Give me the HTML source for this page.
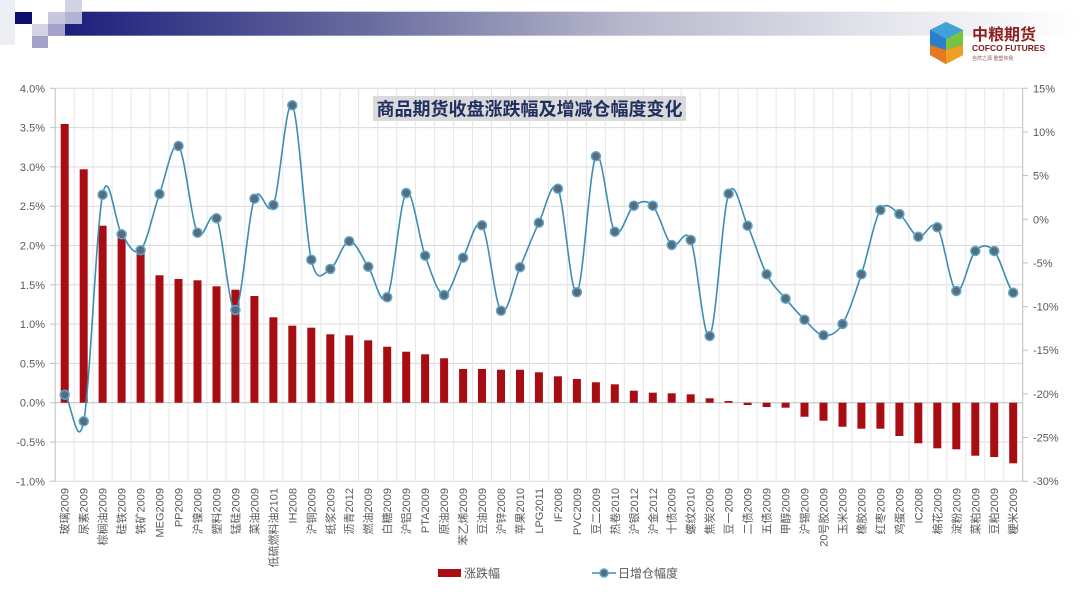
<!DOCTYPE html>
<html><head><meta charset="utf-8"><style>
html,body{margin:0;padding:0;background:#fff;}
svg{display:block;font-family:"Liberation Sans","Noto Sans CJK SC",sans-serif;}
.ax{font-size:11px;fill:#595959;}
.xl{font-size:11px;fill:#595959;}
</style></head><body>
<svg width="1080" height="608" viewBox="0 0 1080 608" xmlns="http://www.w3.org/2000/svg">
<defs>
<linearGradient id="hg" x1="0" x2="1" y1="0" y2="0">
<stop offset="0" stop-color="#1c1e7c"/><stop offset="0.3" stop-color="#6a6c9f"/><stop offset="0.55" stop-color="#b6b7cb"/><stop offset="0.8" stop-color="#e4e4ec"/><stop offset="1" stop-color="#ffffff"/>
</linearGradient>
</defs>
<rect width="1080" height="608" fill="#fff"/>
<!-- header -->
<rect x="0" y="0" width="15" height="45" fill="#ededf4"/>
<rect x="65" y="11.7" width="1015" height="24" fill="url(#hg)"/>
<rect x="15" y="12" width="17" height="12" fill="#0d0d6e"/>
<rect x="48" y="12" width="17" height="12" fill="#c7c7dd"/>
<rect x="32" y="24" width="16" height="12" fill="#d4d4e6"/>
<rect x="48" y="24" width="17" height="12" fill="#a4a4ca"/>
<rect x="32" y="36" width="16" height="12" fill="#a3a3c9"/>
<rect x="65" y="0" width="17" height="12" fill="#d3d3e3"/>
<rect x="65" y="12" width="17" height="12" fill="#b4b4d2"/>
<!-- logo -->
<polygon points="946,22 963,30 963,55 946,64 930,55 930,30" fill="#2a7fc8"/>
<polygon points="946,22 963,30 946,39 930,30" fill="#3fa3d8"/>
<polygon points="946,39 963,30 963,45 946,50" fill="#7cc242"/>
<polygon points="946,50 963,45 963,55 946,64" fill="#f0a020"/>
<polygon points="930,45 946,50 946,64 930,55" fill="#e8781e"/>
<text x="972" y="40" font-size="16" font-weight="bold" fill="#8e1f1f">中粮期货</text>
<text x="972" y="51" font-size="8.5" font-weight="bold" fill="#7a1c1c">COFCO FUTURES</text>
<text x="972" y="60" font-size="5" fill="#8a5a5a">自然之源 重塑你我</text>

<!-- horizontal gridlines -->
<g stroke="#d9d9d9" stroke-width="1">
<path d="M55 88.3H1023M55 127.6H1023M55 166.9H1023M55 206.2H1023M55 245.5H1023M55 284.8H1023M55 324.1H1023M55 363.4H1023M55 442H1023M55 481.3H1023"/>
</g>
<!-- vertical gridlines -->
<g stroke="#e6e6e6" stroke-width="1">
<path d="M74.2 88V481M93.1 88V481M112.1 88V481M131.1 88V481M150.1 88V481M169 88V481M188 88V481M207 88V481M225.9 88V481M244.9 88V481M263.9 88V481M282.8 88V481M301.8 88V481M320.8 88V481M339.8 88V481M358.7 88V481M377.7 88V481M396.7 88V481M415.6 88V481M434.6 88V481M453.6 88V481M472.5 88V481M491.5 88V481M510.5 88V481M529.5 88V481M548.4 88V481M567.4 88V481M586.4 88V481M605.3 88V481M624.3 88V481M643.3 88V481M662.2 88V481M681.2 88V481M700.2 88V481M719.2 88V481M738.1 88V481M757.1 88V481M776.1 88V481M795 88V481M814 88V481M833 88V481M851.9 88V481M870.9 88V481M889.9 88V481M908.9 88V481M927.8 88V481M946.8 88V481M965.8 88V481M984.7 88V481M1003.7 88V481"/>
</g>
<!-- axes -->
<g stroke="#bfbfbf" stroke-width="1">
<path d="M55.2 88V481.3M50 88.3H55M50 127.6H55M50 166.9H55M50 206.2H55M50 245.5H55M50 284.8H55M50 324.1H55M50 363.4H55M50 402.7H55M50 442H55M50 481.3H55"/>
<path d="M1022.7 88V481.3M1023 88.3H1028M1023 132H1028M1023 175.6H1028M1023 219.3H1028M1023 262.9H1028M1023 306.6H1028M1023 350.2H1028M1023 393.9H1028M1023 437.5H1028M1023 481.2H1028"/>
<path d="M55 402.7H1023"/>
</g>

<!-- title -->
<rect x="373" y="96" width="313" height="25" fill="#dadada"/>
<text x="529.5" y="115.5" font-size="18" font-weight="bold" fill="#1f2f5f" text-anchor="middle">商品期货收盘涨跌幅及增减仓幅度变化</text>

<!-- bars -->
<g fill="#a80d14">
<rect x="60.7" y="124" width="8" height="278.7"/>
<rect x="79.7" y="169.3" width="8" height="233.4"/>
<rect x="98.6" y="225.7" width="8" height="177"/>
<rect x="117.6" y="236.5" width="8" height="166.2"/>
<rect x="136.6" y="250.7" width="8" height="152"/>
<rect x="155.5" y="275.3" width="8" height="127.4"/>
<rect x="174.5" y="279" width="8" height="123.7"/>
<rect x="193.5" y="280.3" width="8" height="122.4"/>
<rect x="212.5" y="286.3" width="8" height="116.4"/>
<rect x="231.4" y="289.7" width="8" height="113"/>
<rect x="250.4" y="296" width="8" height="106.7"/>
<rect x="269.4" y="317.3" width="8" height="85.4"/>
<rect x="288.3" y="325.7" width="8" height="77"/>
<rect x="307.3" y="327.7" width="8" height="75"/>
<rect x="326.3" y="334.3" width="8" height="68.4"/>
<rect x="345.2" y="335.3" width="8" height="67.4"/>
<rect x="364.2" y="340.3" width="8" height="62.4"/>
<rect x="383.2" y="346.7" width="8" height="56"/>
<rect x="402.2" y="351.7" width="8" height="51"/>
<rect x="421.1" y="354.3" width="8" height="48.4"/>
<rect x="440.1" y="358.3" width="8" height="44.4"/>
<rect x="459.1" y="369" width="8" height="33.7"/>
<rect x="478" y="369" width="8" height="33.7"/>
<rect x="497" y="369.7" width="8" height="33"/>
<rect x="516" y="369.7" width="8" height="33"/>
<rect x="534.9" y="372.3" width="8" height="30.4"/>
<rect x="553.9" y="376.3" width="8" height="26.4"/>
<rect x="572.9" y="379" width="8" height="23.7"/>
<rect x="591.9" y="382.3" width="8" height="20.4"/>
<rect x="610.8" y="384.3" width="8" height="18.4"/>
<rect x="629.8" y="390.7" width="8" height="12"/>
<rect x="648.8" y="392.7" width="8" height="10"/>
<rect x="667.7" y="393.3" width="8" height="9.4"/>
<rect x="686.7" y="394.3" width="8" height="8.4"/>
<rect x="705.7" y="398.3" width="8" height="4.4"/>
<rect x="724.6" y="401" width="8" height="1.7"/>
<rect x="743.6" y="402.7" width="8" height="2.3"/>
<rect x="762.6" y="402.7" width="8" height="4.3"/>
<rect x="781.6" y="402.7" width="8" height="5"/>
<rect x="800.5" y="402.7" width="8" height="14"/>
<rect x="819.5" y="402.7" width="8" height="18"/>
<rect x="838.5" y="402.7" width="8" height="24"/>
<rect x="857.4" y="402.7" width="8" height="26"/>
<rect x="876.4" y="402.7" width="8" height="26"/>
<rect x="895.4" y="402.7" width="8" height="33.3"/>
<rect x="914.3" y="402.7" width="8" height="40.6"/>
<rect x="933.3" y="402.7" width="8" height="45.6"/>
<rect x="952.3" y="402.7" width="8" height="46.6"/>
<rect x="971.3" y="402.7" width="8" height="53"/>
<rect x="990.2" y="402.7" width="8" height="54.3"/>
<rect x="1009.2" y="402.7" width="8" height="60.6"/>
</g>

<!-- line -->
<path fill="none" stroke="#3d8db0" stroke-width="1.6" d="M64.7 394.7
C71 399.1 77.3 454.6 83.7 421.3
C90 388 96.3 225.9 102.6 194.7
C108.9 163.5 115.3 225 121.6 234.3
C127.9 243.6 134.2 257 140.6 250.3
C146.9 243.6 153.2 211.4 159.5 194
C165.9 176.6 172.2 139.6 178.5 146
C184.8 152.5 191.2 220.7 197.5 232.7
C203.8 244.8 210.1 205.4 216.5 218.3
C222.8 231.2 229.1 313.3 235.4 310
C241.7 306.7 248.1 216.2 254.4 198.7
C260.7 181.2 267 220.6 273.4 205
C279.7 189.4 286 96.2 292.3 105.3
C298.6 114.4 305 232.4 311.3 259.7
C317.6 287 324 272.1 330.3 269
C336.6 265.9 342.9 241.6 349.2 241.2
C355.6 240.8 361.9 257.4 368.2 266.7
C374.5 276.1 380.9 309.6 387.2 297.3
C393.5 285 399.8 199.9 406.2 193
C412.5 186.1 418.8 238.7 425.1 255.7
C431.4 272.7 437.8 294.7 444.1 295
C450.4 295.3 456.7 269.3 463.1 257.7
C469.4 246.1 475.7 216.5 482 225.3
C488.3 234.1 494.7 303.7 501 310.7
C507.3 317.7 513.7 282 520 267.3
C526.3 252.6 532.6 235.8 538.9 222.7
C545.3 209.6 551.6 177.1 557.9 188.7
C564.2 200.3 570.6 297.7 576.9 292.3
C583.2 286.9 589.5 166.4 595.9 156.3
C602.2 146.2 608.5 223.5 614.8 231.7
C621.1 239.9 627.5 210 633.8 205.7
C640.1 201.4 646.4 199.2 652.8 205.7
C659.1 212.3 665.4 239.3 671.7 245
C678 250.7 684.4 224.8 690.7 240
C697 255.2 703.4 343.7 709.7 336
C716 328.3 722.3 212.1 728.6 193.7
C735 175.3 741.3 212.3 747.6 225.7
C753.9 239.1 760.3 262.1 766.6 274.3
C772.9 286.5 779.2 291.1 785.6 298.7
C791.9 306.3 798.2 313.6 804.5 319.7
C810.8 325.8 817.2 334.6 823.5 335.3
C829.8 336 836.1 334.2 842.5 324
C848.8 313.8 855.1 293.3 861.4 274.3
C867.8 255.3 874.1 220.1 880.4 210
C886.7 200 893.1 209.6 899.4 214
C905.7 218.5 912 234.5 918.3 236.7
C924.7 238.9 931 218.3 937.3 227.3
C943.6 236.4 950 287.1 956.3 291
C962.6 295 968.9 257.7 975.3 251
C981.6 244.3 987.9 244.1 994.2 251
C1000.5 258 1006.9 285.8 1013.2 292.7"/>
<g fill="#5a6b79" stroke="#58a9d0" stroke-width="1.5">
<circle cx="64.7" cy="394.7" r="4.5"/><circle cx="83.7" cy="421.3" r="4.5"/><circle cx="102.6" cy="194.7" r="4.5"/><circle cx="121.6" cy="234.3" r="4.5"/><circle cx="140.6" cy="250.3" r="4.5"/><circle cx="159.5" cy="194" r="4.5"/><circle cx="178.5" cy="146" r="4.5"/><circle cx="197.5" cy="232.7" r="4.5"/><circle cx="216.5" cy="218.3" r="4.5"/><circle cx="235.4" cy="310" r="4.5"/><circle cx="254.4" cy="198.7" r="4.5"/><circle cx="273.4" cy="205" r="4.5"/><circle cx="292.3" cy="105.3" r="4.5"/><circle cx="311.3" cy="259.7" r="4.5"/><circle cx="330.3" cy="269" r="4.5"/><circle cx="349.2" cy="241.2" r="4.5"/><circle cx="368.2" cy="266.7" r="4.5"/><circle cx="387.2" cy="297.3" r="4.5"/><circle cx="406.2" cy="193" r="4.5"/><circle cx="425.1" cy="255.7" r="4.5"/><circle cx="444.1" cy="295" r="4.5"/><circle cx="463.1" cy="257.7" r="4.5"/><circle cx="482" cy="225.3" r="4.5"/><circle cx="501" cy="310.7" r="4.5"/><circle cx="520" cy="267.3" r="4.5"/><circle cx="538.9" cy="222.7" r="4.5"/><circle cx="557.9" cy="188.7" r="4.5"/><circle cx="576.9" cy="292.3" r="4.5"/><circle cx="595.9" cy="156.3" r="4.5"/><circle cx="614.8" cy="231.7" r="4.5"/><circle cx="633.8" cy="205.7" r="4.5"/><circle cx="652.8" cy="205.7" r="4.5"/><circle cx="671.7" cy="245" r="4.5"/><circle cx="690.7" cy="240" r="4.5"/><circle cx="709.7" cy="336" r="4.5"/><circle cx="728.6" cy="193.7" r="4.5"/><circle cx="747.6" cy="225.7" r="4.5"/><circle cx="766.6" cy="274.3" r="4.5"/><circle cx="785.6" cy="298.7" r="4.5"/><circle cx="804.5" cy="319.7" r="4.5"/><circle cx="823.5" cy="335.3" r="4.5"/><circle cx="842.5" cy="324" r="4.5"/><circle cx="861.4" cy="274.3" r="4.5"/><circle cx="880.4" cy="210" r="4.5"/><circle cx="899.4" cy="214" r="4.5"/><circle cx="918.3" cy="236.7" r="4.5"/><circle cx="937.3" cy="227.3" r="4.5"/><circle cx="956.3" cy="291" r="4.5"/><circle cx="975.3" cy="251" r="4.5"/><circle cx="994.2" cy="251" r="4.5"/><circle cx="1013.2" cy="292.7" r="4.5"/>
</g>

<!-- left axis labels -->
<g class="ax" text-anchor="end">
<text x="45" y="92.3">4.0%</text><text x="45" y="131.6">3.5%</text><text x="45" y="170.9">3.0%</text><text x="45" y="210.2">2.5%</text><text x="45" y="249.5">2.0%</text><text x="45" y="288.8">1.5%</text><text x="45" y="328.1">1.0%</text><text x="45" y="367.4">0.5%</text><text x="45" y="406.7">0.0%</text><text x="45" y="446">-0.5%</text><text x="45" y="485.3">-1.0%</text>
</g>
<!-- right axis labels -->
<g class="ax">
<text x="1033" y="92.3">15%</text><text x="1033" y="136">10%</text><text x="1033" y="179.6">5%</text><text x="1033" y="223.3">0%</text><text x="1033" y="266.9">-5%</text><text x="1033" y="310.6">-10%</text><text x="1033" y="354.2">-15%</text><text x="1033" y="397.9">-20%</text><text x="1033" y="441.5">-25%</text><text x="1033" y="485.2">-30%</text>
</g>

<!-- x labels -->
<g class="xl" text-anchor="end">
<text transform="translate(68.7,488) rotate(-90)">玻璃2009</text>
<text transform="translate(87.7,488) rotate(-90)">尿素2009</text>
<text transform="translate(106.6,488) rotate(-90)">棕榈油2009</text>
<text transform="translate(125.6,488) rotate(-90)">硅铁2009</text>
<text transform="translate(144.6,488) rotate(-90)">铁矿2009</text>
<text transform="translate(163.5,488) rotate(-90)">MEG2009</text>
<text transform="translate(182.5,488) rotate(-90)">PP2009</text>
<text transform="translate(201.5,488) rotate(-90)">沪镍2008</text>
<text transform="translate(220.5,488) rotate(-90)">塑料2009</text>
<text transform="translate(239.4,488) rotate(-90)">锰硅2009</text>
<text transform="translate(258.4,488) rotate(-90)">菜油2009</text>
<text transform="translate(277.4,488) rotate(-90)">低硫燃料油2101</text>
<text transform="translate(296.3,488) rotate(-90)">IH2008</text>
<text transform="translate(315.3,488) rotate(-90)">沪铜2009</text>
<text transform="translate(334.3,488) rotate(-90)">纸浆2009</text>
<text transform="translate(353.2,488) rotate(-90)">沥青2012</text>
<text transform="translate(372.2,488) rotate(-90)">燃油2009</text>
<text transform="translate(391.2,488) rotate(-90)">白糖2009</text>
<text transform="translate(410.2,488) rotate(-90)">沪铝2009</text>
<text transform="translate(429.1,488) rotate(-90)">PTA2009</text>
<text transform="translate(448.1,488) rotate(-90)">原油2009</text>
<text transform="translate(467.1,488) rotate(-90)">苯乙烯2009</text>
<text transform="translate(486,488) rotate(-90)">豆油2009</text>
<text transform="translate(505,488) rotate(-90)">沪锌2008</text>
<text transform="translate(524,488) rotate(-90)">苹果2010</text>
<text transform="translate(542.9,488) rotate(-90)">LPG2011</text>
<text transform="translate(561.9,488) rotate(-90)">IF2008</text>
<text transform="translate(580.9,488) rotate(-90)">PVC2009</text>
<text transform="translate(599.9,488) rotate(-90)">豆二2009</text>
<text transform="translate(618.8,488) rotate(-90)">热卷2010</text>
<text transform="translate(637.8,488) rotate(-90)">沪银2012</text>
<text transform="translate(656.8,488) rotate(-90)">沪金2012</text>
<text transform="translate(675.7,488) rotate(-90)">十债2009</text>
<text transform="translate(694.7,488) rotate(-90)">螺纹2010</text>
<text transform="translate(713.7,488) rotate(-90)">焦炭2009</text>
<text transform="translate(732.6,488) rotate(-90)">豆一2009</text>
<text transform="translate(751.6,488) rotate(-90)">二债2009</text>
<text transform="translate(770.6,488) rotate(-90)">五债2009</text>
<text transform="translate(789.6,488) rotate(-90)">甲醇2009</text>
<text transform="translate(808.5,488) rotate(-90)">沪锡2009</text>
<text transform="translate(827.5,488) rotate(-90)">20号胶2009</text>
<text transform="translate(846.5,488) rotate(-90)">玉米2009</text>
<text transform="translate(865.4,488) rotate(-90)">橡胶2009</text>
<text transform="translate(884.4,488) rotate(-90)">红枣2009</text>
<text transform="translate(903.4,488) rotate(-90)">鸡蛋2009</text>
<text transform="translate(922.3,488) rotate(-90)">IC2008</text>
<text transform="translate(941.3,488) rotate(-90)">棉花2009</text>
<text transform="translate(960.3,488) rotate(-90)">淀粉2009</text>
<text transform="translate(979.3,488) rotate(-90)">菜粕2009</text>
<text transform="translate(998.2,488) rotate(-90)">豆粕2009</text>
<text transform="translate(1017.2,488) rotate(-90)">粳米2009</text>
</g>

<!-- legend -->
<rect x="438" y="569" width="23" height="8" fill="#a80d14"/>
<text x="464" y="577.5" font-size="12" fill="#595959">涨跌幅</text>
<line x1="592" y1="573" x2="616" y2="573" stroke="#3d8db0" stroke-width="1.6"/>
<circle cx="604" cy="573" r="4" fill="#5a6b79" stroke="#58a9d0" stroke-width="1.5"/>
<text x="618" y="577.5" font-size="12" fill="#595959">日增仓幅度</text>
</svg>
</body></html>
